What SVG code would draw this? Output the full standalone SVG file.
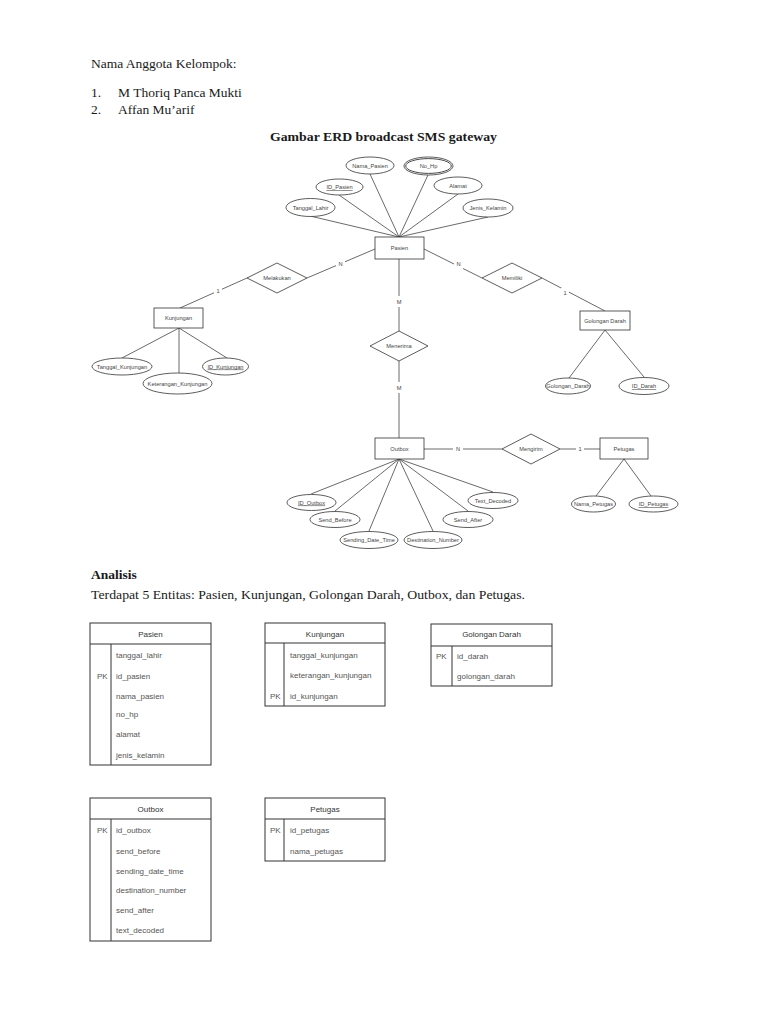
<svg xmlns="http://www.w3.org/2000/svg" width="768" height="1024" viewBox="0 0 768 1024">
<style>
.doc{font-family:"Liberation Serif","Times New Roman",serif;font-size:13.5px;fill:#1a1a1a}
.b{font-weight:bold}
.e{fill:#fff;stroke:#333;stroke-width:0.8}
.l{font-family:"Liberation Sans",Arial,sans-serif;font-size:5.7px;fill:#444;text-anchor:middle;dominant-baseline:central}
.u{text-decoration:underline}
.c line{stroke:#444;stroke-width:0.8}
.lb{fill:#fff}
.t{fill:#fff;stroke:#333;stroke-width:1}
.th{font-family:"Liberation Sans",Arial,sans-serif;font-size:8px;fill:#333;text-anchor:middle;dominant-baseline:central}
.tr{font-family:"Liberation Sans",Arial,sans-serif;font-size:8px;fill:#555;dominant-baseline:central}
</style>
<rect width="768" height="1024" fill="#fff"/>
<g id="header">
<text class="doc" x="91" y="68">Nama Anggota Kelompok:</text>
<text class="doc" x="91" y="97">1.</text><text class="doc" x="118" y="97">M Thoriq Panca Mukti</text>
<text class="doc" x="91" y="114">2.</text><text class="doc" x="118" y="114">Affan Mu’arif</text>
<text class="doc b" x="270" y="141" font-size="14.2" textLength="227" lengthAdjust="spacingAndGlyphs">Gambar ERD broadcast SMS gateway</text>
</g>
<g class="c" id="connectors">
<line x1="370" y1="174" x2="399" y2="237"/>
<line x1="428" y1="175" x2="399" y2="237"/>
<line x1="339" y1="195" x2="399" y2="237"/>
<line x1="458" y1="194" x2="399" y2="237"/>
<line x1="310" y1="216" x2="399" y2="237"/>
<line x1="488" y1="217" x2="399" y2="237"/>
<line x1="375" y1="249" x2="307" y2="278"/>
<line x1="247" y1="278" x2="180" y2="308"/>
<line x1="179" y1="328" x2="122" y2="358"/>
<line x1="179" y1="328" x2="179" y2="373"/>
<line x1="179" y1="328" x2="227" y2="358"/>
<line x1="424" y1="249" x2="482" y2="278"/>
<line x1="542" y1="278" x2="605" y2="311"/>
<line x1="605" y1="330" x2="569" y2="378"/>
<line x1="605" y1="330" x2="644" y2="377"/>
<line x1="399" y1="259" x2="399" y2="331"/>
<line x1="399" y1="361" x2="399" y2="438"/>
<line x1="424" y1="449" x2="502" y2="449"/>
<line x1="560" y1="449" x2="600" y2="449"/>
<line x1="399" y1="459" x2="311" y2="494"/>
<line x1="399" y1="459" x2="335" y2="511"/>
<line x1="399" y1="459" x2="369" y2="531"/>
<line x1="399" y1="459" x2="433" y2="531"/>
<line x1="399" y1="459" x2="468" y2="511"/>
<line x1="399" y1="459" x2="493" y2="492"/>
<line x1="624" y1="459" x2="596" y2="496"/>
<line x1="624" y1="459" x2="651" y2="496"/>
</g>
<g id="cardinalities">
<rect class="lb" x="336" y="259" width="9" height="10"/><text class="l" x="340.5" y="264">N</text>
<rect class="lb" x="214" y="286" width="8" height="10"/><text class="l" x="218" y="291">1</text>
<rect class="lb" x="454" y="259" width="9" height="10"/><text class="l" x="458.5" y="264">N</text>
<rect class="lb" x="561" y="288" width="8" height="10"/><text class="l" x="565" y="293">1</text>
<rect class="lb" x="394" y="296" width="10" height="11"/><text class="l" x="399" y="302">M</text>
<rect class="lb" x="394" y="382" width="10" height="11"/><text class="l" x="399" y="388">M</text>
<rect class="lb" x="453" y="444" width="10" height="10"/><text class="l" x="458" y="449">N</text>
<rect class="lb" x="576" y="444" width="8" height="10"/><text class="l" x="580" y="449">1</text>
</g>
<g id="pasien"><rect class="e" x="375" y="237" width="49" height="22"/><text class="l" x="399.5" y="248">Pasien</text></g>
<g id="nama_pasien"><ellipse class="e" cx="370" cy="165.5" rx="24" ry="8.5"/><text class="l" x="370" y="165.5">Nama_Pasien</text></g>
<g id="no_hp"><ellipse class="e" cx="428.5" cy="166" rx="24.5" ry="9" stroke-width="1"/><ellipse cx="428.5" cy="166" rx="22.8" ry="7.4" fill="none" stroke="#333" stroke-width="0.9"/><text class="l" x="428.5" y="166">No_Hp</text></g>
<g id="id_pasien"><ellipse class="e" cx="339.5" cy="187" rx="23.5" ry="8"/><text class="l u" x="339.5" y="187">ID_Pasien</text></g>
<g id="alamat"><ellipse class="e" cx="458" cy="185.5" rx="24" ry="8.5"/><text class="l" x="458" y="185.5">Alamat</text></g>
<g id="tanggal_lahir"><ellipse class="e" cx="310.5" cy="207.5" rx="24.5" ry="9"/><text class="l" x="310.5" y="207.5">Tanggal_Lahir</text></g>
<g id="jenis_kelamin"><ellipse class="e" cx="488" cy="208" rx="25" ry="9"/><text class="l" x="488" y="208">Jenis_Kelamin</text></g>
<g id="melakukan"><polygon class="e" points="277,263 307,278 277,293 247,278"/><text class="l" x="277" y="278">Melakukan</text></g>
<g id="memiliki"><polygon class="e" points="512,263 542,278 512,293 482,278"/><text class="l" x="512" y="278">Memiliki</text></g>
<g id="kunjungan"><rect class="e" x="154" y="308" width="49" height="20"/><text class="l" x="178.5" y="318">Kunjungan</text></g>
<g id="tanggal_kunjungan"><ellipse class="e" cx="122" cy="366.5" rx="30" ry="8.5"/><text class="l" x="122" y="366.5">Tanggal_Kunjungan</text></g>
<g id="keterangan_kunjungan"><ellipse class="e" cx="177.5" cy="383.5" rx="34.5" ry="10.5"/><text class="l" x="177.5" y="383.5">Keterangan_Kunjungan</text></g>
<g id="id_kunjungan"><ellipse class="e" cx="225.5" cy="366.5" rx="23" ry="8.5"/><text class="l u" x="225.5" y="366.5">ID_Kunjungan</text></g>
<g id="golongan_darah"><rect class="e" x="580" y="311" width="50" height="19"/><text class="l" x="605" y="320.5">Golongan Darah</text></g>
<g id="golongan_darah_attr"><ellipse class="e" cx="568" cy="386" rx="22.5" ry="8"/><text class="l" x="568" y="386" font-size="5.3">Golongan_Darah</text></g>
<g id="id_darah"><ellipse class="e" cx="644" cy="386" rx="25" ry="8.5"/><text class="l u" x="644" y="386">ID_Darah</text></g>
<g id="menerima"><polygon class="e" points="399,331 428,346 399,361 370,346"/><text class="l" x="399" y="346">Menerima</text></g>
<g id="outbox"><rect class="e" x="375" y="438" width="49" height="21"/><text class="l" x="399.5" y="448.5">Outbox</text></g>
<g id="mengirim"><polygon class="e" points="531,434 560,449 531,464 502,449"/><text class="l" x="531" y="449">Mengirim</text></g>
<g id="petugas"><rect class="e" x="600" y="438" width="48" height="21"/><text class="l" x="624" y="448.5">Petugas</text></g>
<g id="id_outbox"><ellipse class="e" cx="311.5" cy="502.5" rx="24.5" ry="8"/><text class="l u" x="311.5" y="502.5">ID_Outbox</text></g>
<g id="send_before"><ellipse class="e" cx="335" cy="519.5" rx="25" ry="8"/><text class="l" x="335" y="519.5">Send_Before</text></g>
<g id="sending_date_time"><ellipse class="e" cx="369" cy="540" rx="29" ry="8.5"/><text class="l" x="369" y="540" font-size="5.4">Sending_Date_Time</text></g>
<g id="destination_number"><ellipse class="e" cx="433" cy="540" rx="29" ry="8.5"/><text class="l" x="433" y="540" font-size="5.4">Destination_Number</text></g>
<g id="send_after"><ellipse class="e" cx="468" cy="519.5" rx="25" ry="8"/><text class="l" x="468" y="519.5">Send_After</text></g>
<g id="text_decoded"><ellipse class="e" cx="493" cy="500.5" rx="25" ry="8"/><text class="l" x="493" y="500.5">Text_Decoded</text></g>
<g id="nama_petugas"><ellipse class="e" cx="593.5" cy="504" rx="22" ry="8"/><text class="l" x="593.5" y="504" font-size="5.3">Nama_Petugas</text></g>
<g id="id_petugas"><ellipse class="e" cx="653.5" cy="504" rx="24.5" ry="8"/><text class="l u" x="653.5" y="504">ID_Petugas</text></g>
<g id="analisis">
<text class="doc b" x="91" y="579" font-size="14.5">Analisis</text>
<text class="doc" x="91" y="599" font-size="14.3" textLength="434" lengthAdjust="spacingAndGlyphs">Terdapat 5 Entitas: Pasien, Kunjungan, Golongan Darah, Outbox, dan Petugas.</text>
</g>
<g id="table_pasien">
<rect class="t" x="90" y="623" width="121" height="142"/>
<line x1="90" y1="644" x2="211" y2="644" stroke="#333"/>
<line x1="111" y1="644" x2="111" y2="765" stroke="#333"/>
<text class="th" x="150.5" y="634">Pasien</text>
<text class="tr" x="97" y="676">PK</text>
<text class="tr" x="116" y="655">tanggal_lahir</text>
<text class="tr" x="116" y="676">id_pasien</text>
<text class="tr" x="116" y="696">nama_pasien</text>
<text class="tr" x="116" y="714">no_hp</text>
<text class="tr" x="116" y="734" fill="#222">alamat</text>
<text class="tr" x="116" y="755" fill="#222">jenis_kelamin</text>
</g>
<g id="table_kunjungan">
<rect class="t" x="265" y="623" width="120" height="83"/>
<line x1="265" y1="643" x2="385" y2="643" stroke="#333"/>
<line x1="284" y1="643" x2="284" y2="706" stroke="#333"/>
<text class="th" x="325" y="634">Kunjungan</text>
<text class="tr" x="290" y="655">tanggal_kunjungan</text>
<text class="tr" x="290" y="675">keterangan_kunjungan</text>
<text class="tr" x="270" y="696">PK</text>
<text class="tr" x="290" y="696">id_kunjungan</text>
</g>
<g id="table_golongan_darah">
<rect class="t" x="431" y="624" width="121" height="62"/>
<line x1="431" y1="646" x2="552" y2="646" stroke="#333"/>
<line x1="452" y1="646" x2="452" y2="686" stroke="#333"/>
<text class="th" x="491.5" y="634">Golongan Darah</text>
<text class="tr" x="436" y="656">PK</text>
<text class="tr" x="457" y="656">id_darah</text>
<text class="tr" x="457" y="676">golongan_darah</text>
</g>
<g id="table_outbox">
<rect class="t" x="90" y="798" width="121" height="143"/>
<line x1="90" y1="819" x2="211" y2="819" stroke="#333"/>
<line x1="111" y1="819" x2="111" y2="941" stroke="#333"/>
<text class="th" x="150.5" y="809">Outbox</text>
<text class="tr" x="97" y="830">PK</text>
<text class="tr" x="116" y="830">id_outbox</text>
<text class="tr" x="116" y="851">send_before</text>
<text class="tr" x="116" y="871">sending_date_time</text>
<text class="tr" x="116" y="890">destination_number</text>
<text class="tr" x="116" y="910" fill="#222">send_after</text>
<text class="tr" x="116" y="930" fill="#222">text_decoded</text>
</g>
<g id="table_petugas">
<rect class="t" x="265" y="798" width="120" height="63"/>
<line x1="265" y1="819" x2="385" y2="819" stroke="#333"/>
<line x1="284" y1="819" x2="284" y2="861" stroke="#333"/>
<text class="th" x="325" y="809">Petugas</text>
<text class="tr" x="270" y="830">PK</text>
<text class="tr" x="290" y="830">id_petugas</text>
<text class="tr" x="290" y="851">nama_petugas</text>
</g>
</svg>
